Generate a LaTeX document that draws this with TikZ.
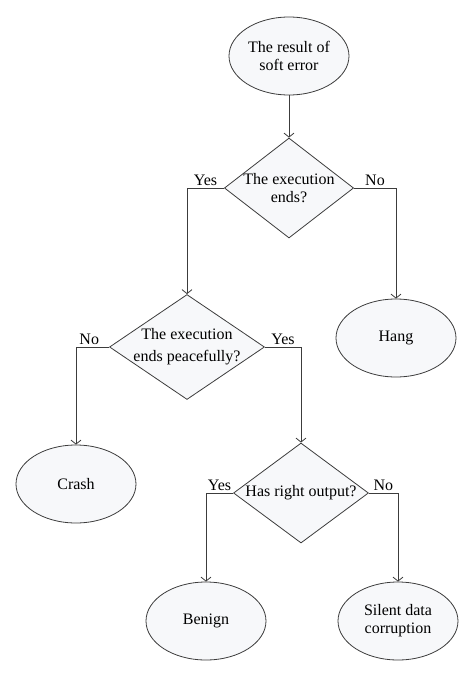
\documentclass[tikz,border=0pt]{standalone}
\usepackage{fontspec}
\setmainfont{Liberation Serif}
\usetikzlibrary{shapes.geometric,arrows.meta}

\definecolor{line1}{RGB}{60,60,60}
\definecolor{fill1}{RGB}{247,248,250}
\tikzstyle{result} = [draw=line1, ellipse, fill=fill1, align=center, inner sep=0pt, minimum width=120pt, minimum height=78pt, line width=0.8pt]
\tikzstyle{decision} = [draw=line1, diamond, fill=fill1, align=center, inner sep=0pt, aspect=1.3, line width=0.8pt]
\tikzstyle{arrow} = [draw=line1, line width=0.8pt, -{Straight Barb[length=4pt,width=10pt]}]
\tikzstyle{answer} = [above, inner sep=1.5pt, pos=0.25]

\begin{document}
\begin{tikzpicture}[node distance=132pt, font=\fontsize{16}{18}\selectfont]
	\useasboundingbox (-289pt,56pt) rectangle (185pt,-622pt);
	\node [result] (start) {The result of\\soft error};
	\node [decision, below of=start, minimum width=129pt, minimum height=100pt] (ends) {The execution\\ends?};
	\node [result, below of=ends, node distance=150pt, xshift=107pt] (hang) {Hang};
	\node [decision, below of=ends, node distance=159pt, xshift=-102pt, inner ysep=-8pt, minimum width=155pt, minimum height=105pt] (peaceful) {The execution\\[4pt]ends peacefully?};
	\node [result, below of=peaceful, node distance=137pt, xshift=-111pt] (crash) {Crash};
	\node [decision, below of=peaceful, node distance=146pt, xshift=114pt, minimum width=135pt, minimum height=98pt] (output) {Has right output?};
	\node [result, below of=output, node distance=128pt, xshift=-95pt] (benign) {Benign};
	\node [result, below of=output, node distance=128pt, xshift=97pt] (silent) {Silent data\\corruption};

	\draw [arrow] (start.south) to (ends.north);
	\draw [arrow] (ends.west) -| node[answer] {Yes} (peaceful.north);
	\draw [arrow] (ends.east) -| node[answer] {No} (hang.north);
	\draw [arrow] (peaceful.west) -| node[answer, pos=0.3] {No} (crash.north);
	\draw [arrow] (peaceful.east) -| node[answer] {Yes} (output.north);
	\draw [arrow] (output.west) -| node[answer] {Yes} (benign.north);
	\draw [arrow] (output.east) -| node[answer] {No} (silent.north);
\end{tikzpicture}
\end{document}
